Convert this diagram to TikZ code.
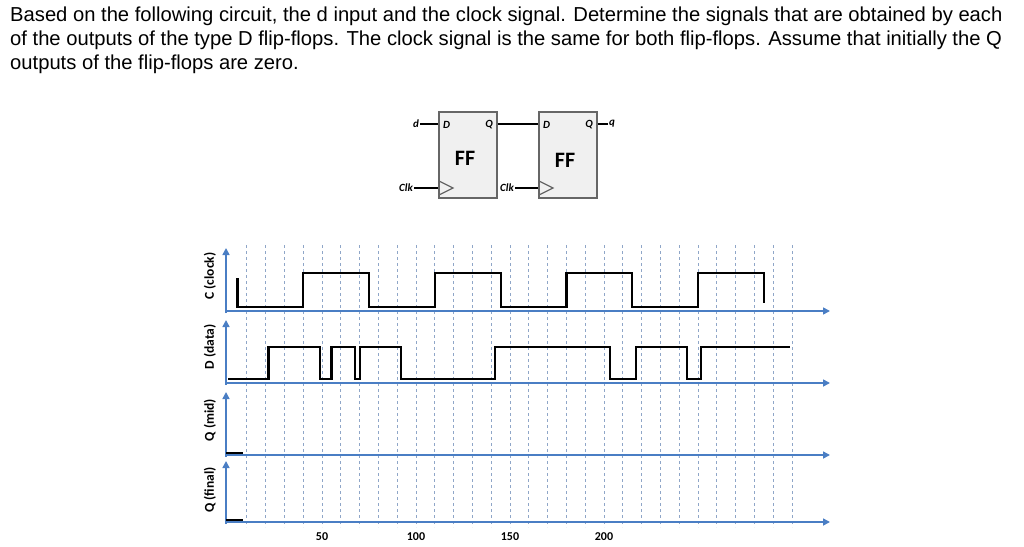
\documentclass[tikz,border=0pt]{standalone}
\usepackage{fontspec}
\setmainfont{Liberation Sans}
\newfontfamily\lab{Carlito}
\usetikzlibrary{arrows.meta}
\definecolor{ax}{HTML}{4A7EC4}
\definecolor{grd}{HTML}{8FA6C8}
\definecolor{boxf}{HTML}{F0F0F0}
\begin{document}
\begin{tikzpicture}[x=1pt,y=-1pt,
  axis/.style={ax,line width=1.6pt,-{Triangle[length=7pt,width=7pt]}},
  sig/.style={black,line width=2.2pt,line join=miter},
  grid/.style={grd,dashed,line width=0.8pt},
  ylab/.style={rotate=90,font=\lab\bfseries\fontsize{13.5}{13.5}\selectfont},
  tlab/.style={font=\lab\bfseries\fontsize{12}{12}\selectfont},
  ffbox/.style={draw=gray!80!black,fill=boxf,line width=1.2pt,minimum width=58pt,minimum height=86pt,inner sep=0},
  pin/.style={font=\lab\bfseries\itshape\fontsize{11}{11}\selectfont,inner sep=1pt}]
\useasboundingbox (0,0) rectangle (1024,546);
% header text
\node[anchor=north west,align=left,inner sep=0,font=\fontsize{20.2}{24}\selectfont] (txt) at (10,7)
 {Based on the following circuit, the d input and the clock signal. Determine the signals that are obtained by each\\
 of the outputs of the type D flip-flops. The clock signal is the same for both flip-flops. Assume that initially the Q\\
 outputs of the flip-flops are zero.};
% flip-flops
\node[ffbox] (ff1) at (468,155) {};
\node[ffbox] (ff2) at (568,155) {};
\node[font=\lab\bfseries\fontsize{22}{22}\selectfont] at (465,158) {FF};
\node[font=\lab\bfseries\fontsize{22}{22}\selectfont] at (565,160) {FF};
\node[pin,anchor=west] (d1) at (442,125) {D};
\node[pin,anchor=east] (q1) at (494,125) {Q};
\node[pin,anchor=west] (d2) at (542,125) {D};
\node[pin,anchor=east] (q2) at (594,125) {Q};
\node[pin] (din) at (416,124) {d};
\node[pin] (qout) at (612,124) {q};
\node[pin] (clk1) at (406,188) {Clk};
\node[pin] (clk2) at (507,188) {Clk};
\draw[line width=1.2pt] (din) -- (ff1.west|-din);
\draw[line width=1.2pt] (ff1.east|-din) -- (ff2.west|-din);
\draw[line width=1.2pt] (ff2.east|-qout) -- (qout);
\draw[line width=1.2pt] (clk1) -- (ff1.west|-clk1);
\draw[line width=1.2pt] (clk2) -- (ff2.west|-clk2);
\draw[gray!80!black,line width=1.2pt] (439,181) -- (453,188) -- (439,195);
\draw[gray!80!black,line width=1.2pt] (539,181) -- (553,188) -- (539,195);
% grid
\foreach \k in {1,...,30}{\draw[grid] ({228+18.8*\k},245) -- ({228+18.8*\k},527);}
% axes
\coordinate (o1) at (226,311); \coordinate (o2) at (226,383);
\coordinate (o3) at (226,455); \coordinate (o4) at (226,522);
\draw[axis] (o1) -- (830,311); \draw[axis] (226,313) -- (226,248);
\draw[axis] (o2) -- (830,383); \draw[axis] (226,385) -- (226,320);
\draw[axis] (o3) -- (830,455); \draw[axis] (226,457) -- (226,392);
\draw[axis] (o4) -- (830,522); \draw[axis] (226,524) -- (226,461);
\node[ylab] at (210,276) {C (clock)};
\node[ylab] at (210,347) {D (data)};
\node[ylab] at (210,420) {Q (mid)};
\node[ylab] at (210,490) {Q (final)};
% signals
\begin{scope}[x=1.88pt,shift={(228pt,0pt)}]
\draw[sig] (5,278) -- (5,307) -- (40,307) -- (40,273) -- (75,273) -- (75,307) -- (110,307) -- (110,273) -- (145,273) -- (145,307)
 -- (180,307) -- (180,273) -- (215,273) -- (215,307) -- (250,307) -- (250,273) -- (285,273) -- (285,303);
\draw[sig] (0,379) -- (21.5,379) -- (21.5,347) -- (49,347) -- (49,379) -- (55,379) -- (55,347) -- (67.5,347) -- (67.5,379) -- (70,379) -- (70,347)
 -- (92,347) -- (92,379) -- (142,379) -- (142,347) -- (203,347) -- (203,379) -- (217,379) -- (217,347) -- (244,347) -- (244,379) -- (251.5,379) -- (251.5,347) -- (299,347);
\draw[sig,line width=2.6pt] (-1,453) -- (8,453);
\draw[sig,line width=2.6pt] (-1,520) -- (8,520);
\node[tlab] at (50,537) {50};
\node[tlab] at (100,537) {100};
\node[tlab] at (150,537) {150};
\node[tlab] at (200,537) {200};
\end{scope}
\end{tikzpicture}
\end{document}
